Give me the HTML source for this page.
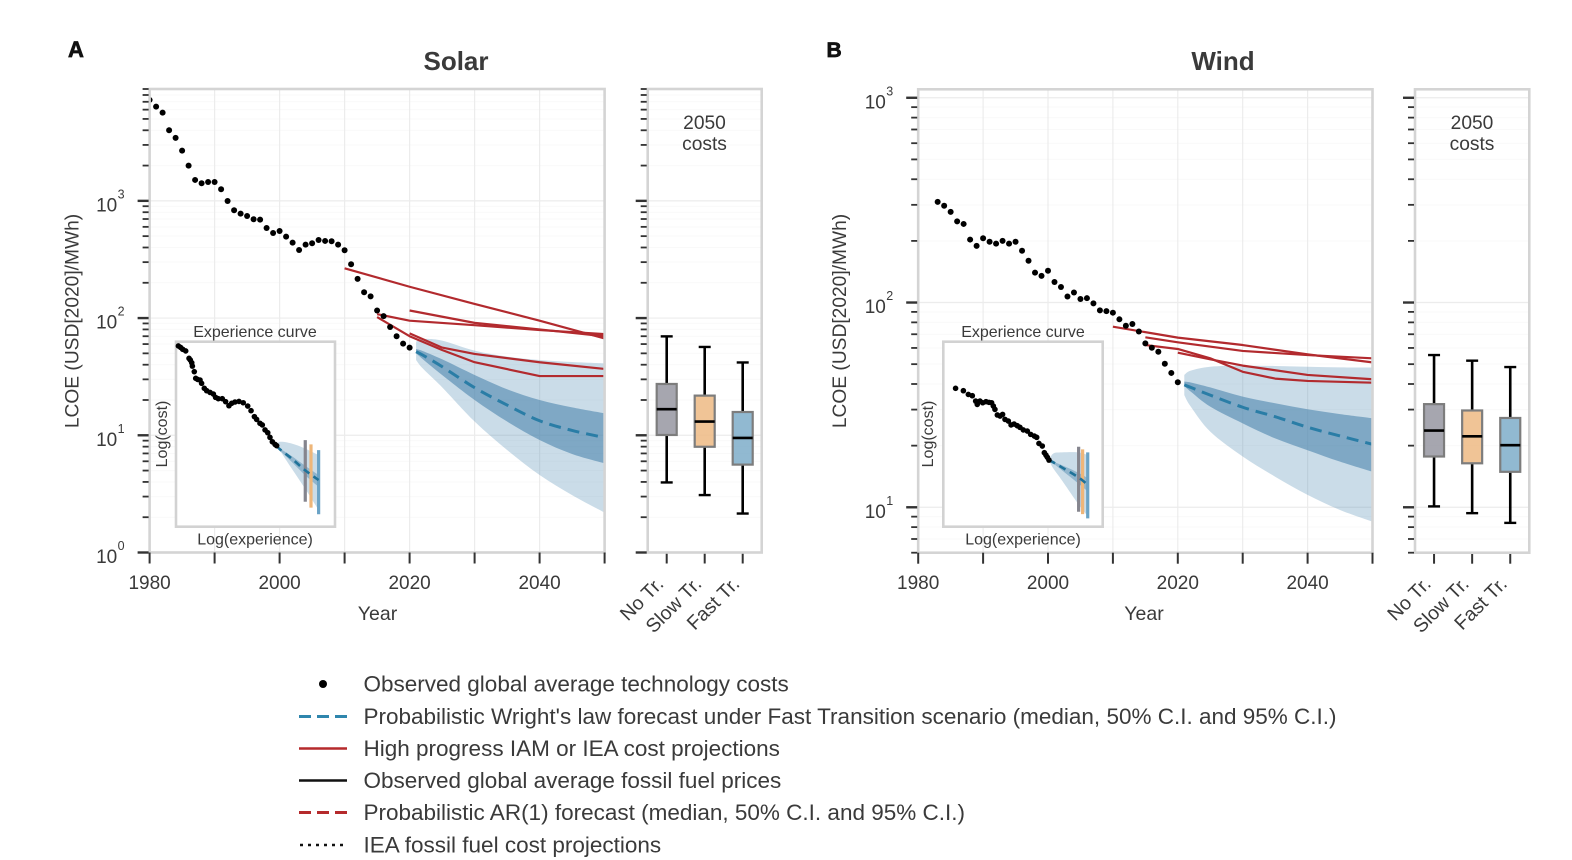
<!DOCTYPE html>
<html lang="en">
<head>
<meta charset="utf-8">
<title>Solar and Wind LCOE forecasts</title>
<style>
  html, body { margin: 0; padding: 0; background: #fff; }
  svg { display: block; position: absolute; left: 0; top: 0; }
  text { font-family: "Liberation Sans", Arial, sans-serif; fill: #3a3a3a; }
</style>
</head>
<body>
<svg id="figure" xmlns="http://www.w3.org/2000/svg" width="1572" height="860" viewBox="0 0 1572 860">
  <defs>
    <clipPath id="solar-clip"><rect x="149.6" y="89" width="455" height="463.5"></rect></clipPath>
    <clipPath id="wind-clip"><rect x="918.2" y="89.3" width="454.3" height="463.4"></rect></clipPath>
  </defs>
  <rect x="0" y="0" width="1572" height="860" fill="#ffffff"></rect>

  <g id="solar-chart"></g>
  <g id="wind-chart"></g>

  <text x="68" y="57" font-size="22" font-weight="700" stroke="#111" stroke-width="0.7" style="fill:#111">A</text>
  <text x="826.5" y="57" font-size="21" font-weight="700" stroke="#111" stroke-width="0.7" style="fill:#111">B</text>
  <text x="456" y="70" font-size="26" font-weight="700" text-anchor="middle">Solar</text>
  <text x="1223" y="70" font-size="26" font-weight="700" text-anchor="middle">Wind</text>

  <text x="377.5" y="620" font-size="19.5" text-anchor="middle">Year</text>
  <text x="1144" y="620" font-size="19.5" text-anchor="middle">Year</text>
  <text transform="translate(78.5 321) rotate(-90)" font-size="19.2" text-anchor="middle">LCOE (USD[2020]/MWh)</text>
  <text transform="translate(846 321) rotate(-90)" font-size="19.2" text-anchor="middle">LCOE (USD[2020]/MWh)</text>

  <text x="255" y="337" font-size="16" text-anchor="middle">Experience curve</text>
  <text x="255" y="544.5" font-size="16" text-anchor="middle">Log(experience)</text>
  <text transform="translate(167 434) rotate(-90)" font-size="16" text-anchor="middle">Log(cost)</text>
  <text x="1023" y="337" font-size="16" text-anchor="middle">Experience curve</text>
  <text x="1023" y="544.5" font-size="16" text-anchor="middle">Log(experience)</text>
  <text transform="translate(933 434) rotate(-90)" font-size="16" text-anchor="middle">Log(cost)</text>

  <text x="704.5" y="129" font-size="19.2" text-anchor="middle">2050</text>
  <text x="704.5" y="150" font-size="19.2" text-anchor="middle">costs</text>
  <text x="1472" y="129" font-size="19.2" text-anchor="middle">2050</text>
  <text x="1472" y="150" font-size="19.2" text-anchor="middle">costs</text>

  <g id="legend">
    <circle cx="323" cy="684" r="4" fill="#000"></circle>
    <line x1="299" y1="716.5" x2="347" y2="716.5" stroke="#2f86ad" stroke-width="3" stroke-dasharray="12 6"></line>
    <line x1="299" y1="748.5" x2="347" y2="748.5" stroke="#b52a2c" stroke-width="2.5"></line>
    <line x1="299" y1="780.5" x2="347" y2="780.5" stroke="#111" stroke-width="2.5"></line>
    <line x1="299" y1="812.5" x2="347" y2="812.5" stroke="#b52a2c" stroke-width="3" stroke-dasharray="12 6"></line>
    <line x1="300" y1="845" x2="347" y2="845" stroke="#111" stroke-width="2.5" stroke-dasharray="3 5"></line>
    <text x="363.5" y="691.5" font-size="22.5">Observed global average technology costs</text>
    <text x="363.5" y="724" font-size="22.5">Probabilistic Wright's law forecast under Fast Transition scenario (median, 50% C.I. and 95% C.I.)</text>
    <text x="363.5" y="756" font-size="22.5">High progress IAM or IEA cost projections</text>
    <text x="363.5" y="788" font-size="22.5">Observed global average fossil fuel prices</text>
    <text x="363.5" y="820" font-size="22.5">Probabilistic AR(1) forecast (median, 50% C.I. and 95% C.I.)</text>
    <text x="363.5" y="852.5" font-size="22.5">IEA fossil fuel cost projections</text>
  </g>
</svg>

<script>
/* ---------- shared axis data ---------- */
const xTickYears = [1980, 1990, 2000, 2010, 2020, 2030, 2040, 2050];
const xLabelYears = [1980, 2000, 2020, 2040];
const minorMultipliers = [2, 3, 4, 5, 6, 7, 8, 9];
const scenarioLabels = ['No Tr.', 'Slow Tr.', 'Fast Tr.'];
const forecastYears = [2021, 2022, 2025, 2030, 2035, 2040, 2045, 2050];

/* ---------- solar data ---------- */
const solarDecades = [1, 10, 100, 1000];
const solarDecadeExponents = ['0', '1', '2', '3'];
const solarYears = [1980,1981,1982,1983,1984,1985,1986,1987,1988,1989,1990,1991,1992,1993,1994,1995,1996,1997,1998,1999,2000,2001,2002,2003,2004,2005,2006,2007,2008,2009,2010,2011,2012,2013,2014,2015,2016,2017,2018,2019,2020];
const solarCosts = [7260,6368,5660,4000,3443,2680,1997,1508,1413,1449,1449,1256,998,831,778,743,697,691,587,532,553,495,440,381,423,435,464,455,452,423,379,288,216,166,153,116,104,84,70,60.5,56];
const solarIamYears = [
  [2010,2020,2030,2040,2050],
  [2020,2030,2040,2050],
  [2015,2020,2030,2040,2050],
  [2015,2020,2025,2030,2040,2050],
  [2020,2025,2030,2040,2050]
];
const solarIamValues = [
  [266,185,132,95,67],
  [116,91,80,70],
  [108,95,87,79,73],
  [102,70,53.4,42,32,32],
  [74,56,49.4,42,36.8]
];
const solarUpper95 = [62.9,66.3,64.2,52.7,46.9,43.9,42.2,41.1];
const solarLower95 = [43.9,37.3,25.7,13.1,7.49,4.58,3.09,2.19];
const solarUpper50 = [54.5,52.4,44.5,32.7,24.7,20.0,17.3,15.4];
const solarLower50 = [50.1,44.8,32.7,20.0,13.1,9.12,6.93,5.77];
const solarMedian = [51.7,48.4,38.5,25.5,18.1,13.3,11.0,9.55];
const solarBoxWhiskerHigh = [69.8,56.7,41.8];
const solarBoxQ3 = [27.4,21.8,15.8];
const solarBoxMedian = [16.7,13.1,9.5];
const solarBoxQ1 = [10.06,7.98,5.62];
const solarBoxWhiskerLow = [3.96,3.09,2.15];
/* experience-curve inset: log-experience and log-cost, as percent of inset axis range */
const solarInsetExperience = [1.5,2.9,4.2,6.1,8.2,9.0,9.9,10.3,11.5,12.4,13.6,15.1,16.1,17.8,19.3,21.4,23.5,24.9,26.6,29.1,31.2,33.3,35.0,37.1,39.6,42.3,45.1,47.2,49.3,50.7,52.8,54.3,56.0,57.7,59.1,60.6,62.3,63.3];
const solarInsetCost = [97.7,96.9,95.9,95.0,91.0,90.1,88.6,86.8,83.8,80.2,79.6,79.3,77.5,74.8,73.5,72.6,71.7,69.9,69.2,69.2,67.6,65.4,66.7,67.4,67.7,67.0,65.2,62.7,59.5,58.0,55.9,55.0,52.3,50.8,48.3,45.9,44.5,43.8];
const solarInsetFanX = [63.3,65.4,72.7,81.1,89.7];
const solarInsetUpper95 = [43.8,45.9,45.0,42.3,38.7];
const solarInsetLower95 = [43.8,41.1,31.5,20.7,9.0];
const solarInsetUpper50 = [43.8,42.3,38.2,33.0,27.9];
const solarInsetLower50 = [43.8,41.1,35.1,27.9,21.6];
const solarInsetMedian = [43.8,41.8,36.9,30.6,25.2];
const solarInsetBarX = [81.3,84.9,89.7];
const solarInsetBarHigh = [46.8,44.5,41.4];
const solarInsetBarLow = [13.5,10.3,6.7];

/* ---------- wind data ---------- */
const windDecades = [10, 100, 1000];
const windDecadeExponents = ['1', '2', '3'];
const windYears = [1983,1984,1985,1986,1987,1988,1989,1990,1991,1992,1993,1994,1995,1996,1997,1998,1999,2000,2001,2002,2003,2004,2005,2006,2007,2008,2009,2010,2011,2012,2013,2014,2015,2016,2017,2018,2019,2020];
const windCosts = [310,297,277,249,242,203,189,206,198,194,200,194,198,179,160,140,135,143,126,119,107,112,104,105,99,91.6,90.8,89.2,82.8,77,78.5,72.2,63.2,60.1,57.5,50.2,45.3,40.8];
const windIamYears = [
  [2010,2020,2030,2040,2050],
  [2015,2020,2030,2040,2050],
  [2015,2020,2025,2030,2035,2040,2050],
  [2020,2025,2030,2040,2050]
];
const windIamValues = [
  [76.2,67.4,62.0,55.8,51.0],
  [67.6,63.9,58.0,55.4,53.4],
  [62.0,59.3,53.4,45.9,42.5,41.4,40.6],
  [56.9,52.8,49.2,44.3,42.2]
];
const windUpper95 = [44.3,46.5,48.6,49.2,49.0,48.6,48.2,48.1];
const windLower95 = [35.3,31.0,23.4,17.7,14.1,11.5,9.70,8.51];
const windUpper50 = [41.1,40.7,38.5,34.7,32.2,30.1,28.5,27.2];
const windLower50 = [39.1,36.7,31.0,25.7,21.7,19.0,16.7,14.9];
const windMedian = [39.6,38.5,35.3,30.8,27.7,24.6,22.3,20.3];
const windBoxWhiskerHigh = [55.4,52.0,48.4];
const windBoxQ3 = [31.9,29.7,27.3];
const windBoxMedian = [23.7,22.2,20.1];
const windBoxQ1 = [17.7,16.4,14.9];
const windBoxWhiskerLow = [10.1,9.36,8.39];
const windInsetExperience = [7.7,12.6,15.7,18.2,20.3,21.3,23.0,24.7,26.8,28.7,30.3,31.4,32.4,33.9,35.6,37.2,38.7,40.8,42.5,44.4,46.4,48.1,50.2,52.7,54.8,57.1,58.6,60.0,62.1,63.4,64.4,65.3,66.3];
const windInsetCost = [74.8,73.5,71.5,70.8,67.9,66.1,67.9,67.0,67.6,67.2,67.0,65.2,63.4,60.4,59.8,60.7,58.0,57.1,55.0,55.5,54.6,53.7,52.3,51.7,49.9,49.0,48.3,45.0,43.6,40.0,38.7,37.5,36.0];
const windInsetFanX = [66.3,69.0,74.3,84.7,90.8];
const windInsetUpper95 = [36.0,39.6,40.2,40.2,38.7];
const windInsetLower95 = [36.0,31.5,25.2,12.3,5.4];
const windInsetUpper50 = [36.0,35.1,33.3,29.2,26.1];
const windInsetLower50 = [36.0,34.2,30.6,23.4,18.9];
const windInsetMedian = [36.0,34.8,32.1,26.7,22.5];
const windInsetBarX = [84.9,87.4,90.6];
const windInsetBarHigh = [43.2,41.8,40.2];
const windInsetBarLow = [8.1,6.8,4.5];

/* ---------- helpers ---------- */
const SVG_NS = 'http://www.w3.org/2000/svg';
const boxColours = ['#92929d', '#edb77f', '#79a9c7'];
const insetBarColours = ['#85858e', '#eeb679', '#6aa3c6'];

function add(parent, tag, attrs) {
  const node = document.createElementNS(SVG_NS, tag);
  for (const key in attrs) node.setAttribute(key, attrs[key]);
  parent.appendChild(node);
  return node;
}

function smooth(points) {
  let d = '';
  for (let i = 0; i < points.length - 1; i++) {
    const p0 = points[Math.max(0, i - 1)];
    const p1 = points[i];
    const p2 = points[i + 1];
    const p3 = points[Math.min(points.length - 1, i + 2)];
    const c1x = p1[0] + (p2[0] - p0[0]) / 6;
    const c1y = p1[1] + (p2[1] - p0[1]) / 6;
    const c2x = p2[0] - (p3[0] - p1[0]) / 6;
    const c2y = p2[1] - (p3[1] - p1[1]) / 6;
    d += ' C' + c1x.toFixed(2) + ' ' + c1y.toFixed(2) + ' ' + c2x.toFixed(2) + ' ' + c2y.toFixed(2) + ' ' + p2[0].toFixed(2) + ' ' + p2[1].toFixed(2);
  }
  return d;
}

function smoothLine(points) {
  return 'M' + points[0][0].toFixed(2) + ' ' + points[0][1].toFixed(2) + smooth(points);
}

function smoothBand(upper, lower) {
  const back = lower.slice().reverse();
  return smoothLine(upper) + ' L' + back[0][0].toFixed(2) + ' ' + back[0][1].toFixed(2) + smooth(back) + ' Z';
}

function zip(xs, ys) {
  return xs.map(function (x, i) { return [x, ys[i]]; });
}

/* ---------- chart renderer ---------- */
function renderChart(cfg) {
  const root = document.getElementById(cfg.rootId);
  const xScale = function (year) {
    return cfg.left + (cfg.right - cfg.left) * (year - cfg.xMin) / (cfg.xMax - cfg.xMin);
  };
  const yScale = function (value) {
    return cfg.bottom - (cfg.bottom - cfg.top) * (Math.log10(value) - Math.log10(cfg.yMin)) / (Math.log10(cfg.yMax) - Math.log10(cfg.yMin));
  };
  const catScale = function (index) {
    return cfg.boxLeft + (cfg.boxRight - cfg.boxLeft) * (index + 0.5) / scenarioLabels.length;
  };
  const insetX = function (p) { return cfg.insetLeft + (cfg.insetRight - cfg.insetLeft) * p / 100; };
  const insetY = function (p) { return cfg.insetBottom - (cfg.insetBottom - cfg.insetTop) * p / 100; };

  /* collect tick values */
  const minorValues = [];
  const decadesAll = [cfg.decades[0] / 10].concat(cfg.decades);
  decadesAll.forEach(function (decade) {
    minorMultipliers.forEach(function (m) {
      const v = decade * m;
      if (v >= cfg.yMin && v <= cfg.yMax) minorValues.push(v);
    });
  });

  /* horizontal grid for both panels */
  [[cfg.left, cfg.right], [cfg.boxLeft, cfg.boxRight]].forEach(function (span) {
    minorValues.forEach(function (v) {
      const grid = add(root, 'line', { x1: span[0], x2: span[1], y1: yScale(v), y2: yScale(v), stroke: '#f9f9f9', 'stroke-width': 1 });
      
      
    });
    cfg.decades.forEach(function (v) {
      const grid = add(root, 'line', { x1: span[0], x2: span[1], y1: yScale(v), y2: yScale(v), stroke: '#ececec', 'stroke-width': 1.2 });
      
      
    });
  });
  xTickYears.forEach(function (year) {
    const grid = add(root, 'line', { x1: xScale(year), x2: xScale(year), y1: cfg.top, y2: cfg.bottom, stroke: '#ececec', 'stroke-width': 1.2 });
    
    
  });

  /* clipped marks */
  const plot = add(root, 'g', { 'clip-path': 'url(#' + cfg.clipId + ')' });
  
  

  const fanX = forecastYears.map(xScale);
  const band95 = add(plot, 'path', { d: smoothBand(zip(fanX, cfg.upper95.map(yScale)), zip(fanX, cfg.lower95.map(yScale))), fill: '#5f94b9', 'fill-opacity': 0.33 });
  
  

  const band50 = add(plot, 'path', { d: smoothBand(zip(fanX, cfg.upper50.map(yScale)), zip(fanX, cfg.lower50.map(yScale))), fill: '#4c86ad', 'fill-opacity': 0.6 });
  
  

  const median = add(plot, 'path', { d: smoothLine(zip(fanX, cfg.median.map(yScale))), fill: 'none', stroke: '#2a7da6', 'stroke-width': 3, 'stroke-dasharray': '12 7' });
  
  

  cfg.iamYears.forEach(function (years, i) {
    const pts = years.map(function (year, j) {
      return xScale(year).toFixed(2) + ',' + yScale(cfg.iamValues[i][j]).toFixed(2);
    }).join(' ');
    const red = add(plot, 'polyline', { points: pts, fill: 'none', stroke: '#b22a2e', 'stroke-width': 2.2, 'stroke-linejoin': 'round' });
    
    
  });

  cfg.years.forEach(function (year, i) {
    const dot = add(plot, 'circle', { cx: xScale(year), cy: yScale(cfg.costs[i]), r: 3, fill: '#000' });
    
    
  });

  /* inset */
  const inset = add(root, 'g', {});
  
  

  const insetFrame = add(inset, 'rect', { x: cfg.insetLeft, y: cfg.insetTop, width: cfg.insetRight - cfg.insetLeft, height: cfg.insetBottom - cfg.insetTop, fill: '#fff', stroke: '#d2d2d2', 'stroke-width': 2.6 });
  
  

  const insetFanXs = cfg.insetFanX.map(insetX);
  const inset95 = add(inset, 'path', { d: smoothBand(zip(insetFanXs, cfg.insetUpper95.map(insetY)), zip(insetFanXs, cfg.insetLower95.map(insetY))), fill: '#5f94b9', 'fill-opacity': 0.33 });
  
  

  const inset50 = add(inset, 'path', { d: smoothBand(zip(insetFanXs, cfg.insetUpper50.map(insetY)), zip(insetFanXs, cfg.insetLower50.map(insetY))), fill: '#4c86ad', 'fill-opacity': 0.45 });
  
  

  cfg.insetBarX.forEach(function (p, i) {
    const bar = add(inset, 'line', { x1: insetX(p), x2: insetX(p), y1: insetY(cfg.insetBarHigh[i]), y2: insetY(cfg.insetBarLow[i]), stroke: insetBarColours[i], 'stroke-width': 3.2 });
    
    
  });

  const insetMedian = add(inset, 'path', { d: smoothLine(zip(insetFanXs, cfg.insetMedian.map(insetY))), fill: 'none', stroke: '#1f7299', 'stroke-width': 2.6, 'stroke-dasharray': '7 5' });
  
  

  cfg.insetExperience.forEach(function (p, i) {
    const dot = add(inset, 'circle', { cx: insetX(p), cy: insetY(cfg.insetCost[i]), r: 2.8, fill: '#000' });
    
    
  });

  /* box plots */
  scenarioLabels.forEach(function (label, i) {
    const cx = catScale(i);
    const whiskerUp = add(root, 'line', { x1: cx, x2: cx, y1: yScale(cfg.boxHigh[i]), y2: yScale(cfg.boxQ3[i]), stroke: '#000', 'stroke-width': 2.6 });
    
    

    const whiskerDown = add(root, 'line', { x1: cx, x2: cx, y1: yScale(cfg.boxQ1[i]), y2: yScale(cfg.boxLow[i]), stroke: '#000', 'stroke-width': 2.6 });
    
    

    const capUp = add(root, 'line', { x1: cx - 6, x2: cx + 6, y1: yScale(cfg.boxHigh[i]), y2: yScale(cfg.boxHigh[i]), stroke: '#000', 'stroke-width': 2.4 });
    
    

    const capDown = add(root, 'line', { x1: cx - 6, x2: cx + 6, y1: yScale(cfg.boxLow[i]), y2: yScale(cfg.boxLow[i]), stroke: '#000', 'stroke-width': 2.4 });
    
    

    const box = add(root, 'rect', { x: cx - 10, y: yScale(cfg.boxQ3[i]), width: 20, height: yScale(cfg.boxQ1[i]) - yScale(cfg.boxQ3[i]), fill: boxColours[i], 'fill-opacity': 0.82, stroke: '#7d7d7d', 'stroke-width': 2.2 });
    
    

    const med = add(root, 'line', { x1: cx - 10, x2: cx + 10, y1: yScale(cfg.boxMedian[i]), y2: yScale(cfg.boxMedian[i]), stroke: '#000', 'stroke-width': 2.6 });
    
    

    const tick = add(root, 'line', { x1: cx, x2: cx, y1: cfg.bottom, y2: cfg.bottom + 11, stroke: '#333', 'stroke-width': 2 });
    
    

    const ax = cx - 2;
    const ay = 585;
    const text = add(root, 'text', { x: ax, y: ay, 'font-size': 19.5, 'text-anchor': 'end', transform: 'rotate(-45 ' + ax + ' ' + ay + ')' });
    text.textContent = label;
    
    
  });

  /* spines */
  const spine = add(root, 'rect', { x: cfg.left, y: cfg.top, width: cfg.right - cfg.left, height: cfg.bottom - cfg.top, fill: 'none', stroke: '#d4d4d4', 'stroke-width': 2.6 });
  
  

  const boxSpine = add(root, 'rect', { x: cfg.boxLeft, y: cfg.top, width: cfg.boxRight - cfg.boxLeft, height: cfg.bottom - cfg.top, fill: 'none', stroke: '#d4d4d4', 'stroke-width': 2.6 });
  
  

  /* y ticks on both panels */
  [cfg.left, cfg.boxLeft].forEach(function (axisX) {
    minorValues.forEach(function (v) {
      const tick = add(root, 'line', { x1: axisX - 7, x2: axisX - 1, y1: yScale(v), y2: yScale(v), stroke: '#333', 'stroke-width': 1.8 });
      
      
    });
    cfg.decades.forEach(function (v) {
      const tick = add(root, 'line', { x1: axisX - 12, x2: axisX - 1, y1: yScale(v), y2: yScale(v), stroke: '#333', 'stroke-width': 2.4 });
      
      
    });
  });

  /* y labels */
  cfg.decades.forEach(function (v, i) {
    const y = yScale(v);
    const label = add(root, 'text', { x: cfg.left - 53.5, y: y + 10.5, 'font-size': 19 });
    label.textContent = '10';
    
    

    const exponent = add(root, 'text', { x: cfg.left - 32, y: y - 2.5, 'font-size': 12.5 });
    exponent.textContent = cfg.exponents[i];
    
    
  });

  /* x ticks and labels */
  xTickYears.forEach(function (year) {
    const tick = add(root, 'line', { x1: xScale(year), x2: xScale(year), y1: cfg.bottom, y2: cfg.bottom + 11, stroke: '#333', 'stroke-width': 2 });
    
    
  });
  xLabelYears.forEach(function (year) {
    const label = add(root, 'text', { x: xScale(year), y: 589, 'font-size': 19, 'text-anchor': 'middle' });
    label.textContent = String(year);
    
    
  });
}

renderChart({
  rootId: 'solar-chart', prefix: 'solar', clipId: 'solar-clip',
  left: 149.6, right: 604.6, top: 89, bottom: 552.5,
  xMin: 1980, xMax: 2050, yMin: 1, yMax: 9000,
  boxLeft: 647.7, boxRight: 761.7,
  insetLeft: 176, insetRight: 335, insetTop: 341.7, insetBottom: 526.7,
  decades: solarDecades, exponents: solarDecadeExponents,
  years: solarYears, costs: solarCosts,
  iamYears: solarIamYears, iamValues: solarIamValues,
  upper95: solarUpper95, lower95: solarLower95, upper50: solarUpper50, lower50: solarLower50, median: solarMedian,
  boxHigh: solarBoxWhiskerHigh, boxQ3: solarBoxQ3, boxMedian: solarBoxMedian, boxQ1: solarBoxQ1, boxLow: solarBoxWhiskerLow,
  insetExperience: solarInsetExperience, insetCost: solarInsetCost, insetFanX: solarInsetFanX,
  insetUpper95: solarInsetUpper95, insetLower95: solarInsetLower95, insetUpper50: solarInsetUpper50, insetLower50: solarInsetLower50, insetMedian: solarInsetMedian,
  insetBarX: solarInsetBarX, insetBarHigh: solarInsetBarHigh, insetBarLow: solarInsetBarLow
});

renderChart({
  rootId: 'wind-chart', prefix: 'wind', clipId: 'wind-clip',
  left: 918.2, right: 1372.5, top: 89.3, bottom: 552.7,
  xMin: 1980, xMax: 2050, yMin: 6, yMax: 1100,
  boxLeft: 1415, boxRight: 1529.3,
  insetLeft: 943.3, insetRight: 1102.7, insetTop: 341.7, insetBottom: 526.7,
  decades: windDecades, exponents: windDecadeExponents,
  years: windYears, costs: windCosts,
  iamYears: windIamYears, iamValues: windIamValues,
  upper95: windUpper95, lower95: windLower95, upper50: windUpper50, lower50: windLower50, median: windMedian,
  boxHigh: windBoxWhiskerHigh, boxQ3: windBoxQ3, boxMedian: windBoxMedian, boxQ1: windBoxQ1, boxLow: windBoxWhiskerLow,
  insetExperience: windInsetExperience, insetCost: windInsetCost, insetFanX: windInsetFanX,
  insetUpper95: windInsetUpper95, insetLower95: windInsetLower95, insetUpper50: windInsetUpper50, insetLower50: windInsetLower50, insetMedian: windInsetMedian,
  insetBarX: windInsetBarX, insetBarHigh: windInsetBarHigh, insetBarLow: windInsetBarLow
});
</script>
</body>
</html>
